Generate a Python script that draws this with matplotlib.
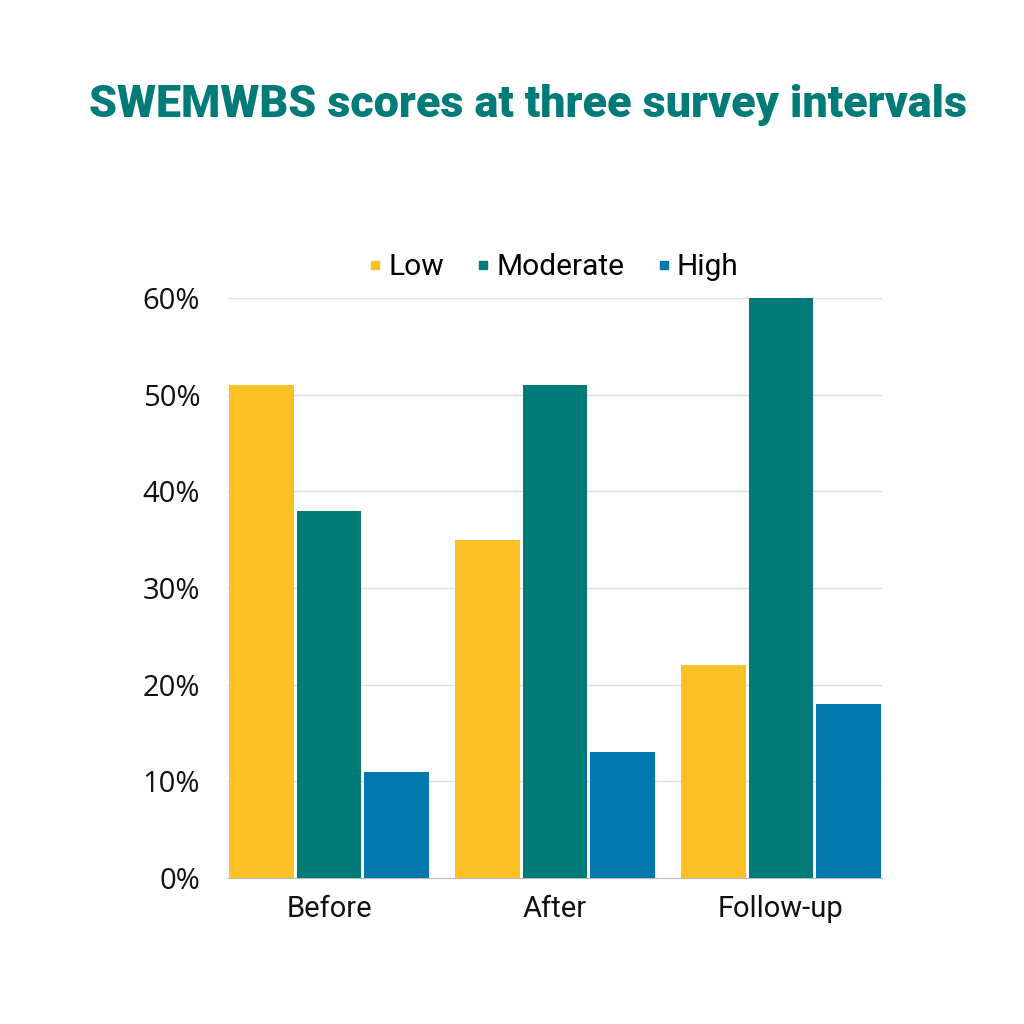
import matplotlib
matplotlib.use("Agg")
import matplotlib.pyplot as plt
import numpy as np
from matplotlib.lines import Line2D

categories = ["Before", "After", "Follow-up"]
series_names = ["Low", "Moderate", "High"]
low = [51, 35, 22]
moderate = [38, 51, 60]
high = [11, 13, 18]
yticks = [0, 10, 20, 30, 40, 50, 60]
ytick_labels = ["0%", "10%", "20%", "30%", "40%", "50%", "60%"]

colors = ["#FDC125", "#007B78", "#0078AE"]
values = [low, moderate, high]

fig = plt.figure(figsize=(10.24, 10.24), dpi=100)
ax = fig.add_axes([228/1024, 1 - 878/1024, (882-228)/1024, (878-298)/1024])

x = np.arange(len(categories))
slot = 0.298
width = 0.285
for i, (name, vals, c) in enumerate(zip(series_names, values, colors)):
    ax.bar(x + (i - 1) * slot, vals, width=width, color=c, label=name, zorder=3)

ax.set_xlim(-0.447, 2.447)
ax.set_ylim(0, 60)
ax.set_yticks(yticks)
ax.set_yticklabels(ytick_labels, fontsize=21, family="Open Sans", color="#111111")
ax.set_xticks(x)
ax.set_xticklabels(categories, fontsize=21, family="Roboto", color="#111111")
ax.tick_params(axis="both", length=0)
ax.tick_params(axis="y", pad=20)
ax.tick_params(axis="x", pad=12)
ax.grid(axis="y", color="#dddddd", linewidth=1, zorder=0)
for s in ["top", "right", "left"]:
    ax.spines[s].set_visible(False)
ax.spines["bottom"].set_color("#bbbbbb")

handles = [Line2D([0], [0], marker="s", linestyle="none", markersize=6,
                  markerfacecolor=c, markeredgecolor=c) for c in colors]
fig.legend(handles, series_names, loc="center", bbox_to_anchor=(551/1024, 1 - 267/1024),
           ncol=3, frameon=False, handletextpad=0.05, columnspacing=0.9,
           handlelength=0.8, prop={"family": "Roboto", "size": 21.5})

fig.text(528/1024, 1 - 105/1024, "SWEMWBS scores at three survey intervals",
         ha="center", va="center", fontsize=32.3, fontweight="black", family="Roboto",
         color="#007B78")

fig.savefig("out.png", dpi=100)
